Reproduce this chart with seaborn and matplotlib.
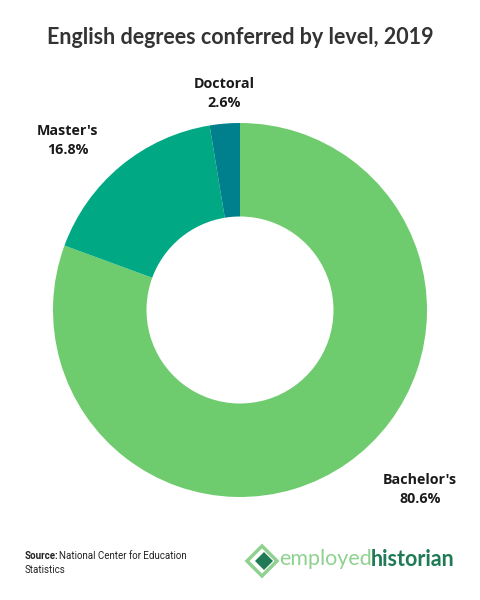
import matplotlib
matplotlib.use("Agg")
import matplotlib.pyplot as plt
import numpy as np
import seaborn as sns

levels = ["Bachelor's", "Master's", "Doctoral"]
shares = [80.6, 16.8, 2.6]
colors = ["#6fcc6e", "#00a984", "#00808d"]
# label placement (angle in degrees, distance in radii) for each wedge
label_pos = [(-45, 1.36), (135.5, 1.29), (94.2, 1.16)]

sns.set_theme(style="white")
plt.rcParams["font.family"] = ["Open Sans", "DejaVu Sans"]

W, H = 480, 600
fig = plt.figure(figsize=(4.8, 6), dpi=100)
fig.patch.set_facecolor("white")

# pie centred at (240, 310) px, radius 187 px
ax = fig.add_axes([53 / W, (H - 310 - 187) / H, 374 / W, 374 / H])
ax.pie(shares, colors=colors, startangle=90, counterclock=False,
       radius=1, wedgeprops=dict(width=0.5, linewidth=0))
ax.set_xlim(-1, 1)
ax.set_ylim(-1, 1)
ax.set_aspect("equal")
ax.axis("off")

for name, val, (ang, dist) in zip(levels, shares, label_pos):
    a = np.deg2rad(ang)
    ax.text(dist * np.cos(a), dist * np.sin(a), f"{name}\n{val}%",
            ha="center", va="center", fontsize=10.3, fontweight="bold",
            color="#1a1a1a", linespacing=1.45)

fig.text(0.5, (H - 38) / H, "English degrees conferred by level, 2019",
         ha="center", va="center", fontsize=15.5, fontweight="bold",
         color="#333333", family=["Lato", "DejaVu Sans"])

# source note
src_font = ["Roboto", "DejaVu Sans"]
fig.text(25 / W, (H - 556) / H, "Source:", fontsize=7, fontweight="bold",
         color="#222222", family=src_font, va="center")
fig.text(59 / W, (H - 556) / H, "National Center for Education",
         fontsize=7, color="#222222", family=src_font, va="center")
fig.text(25 / W, (H - 570) / H, "Statistics", fontsize=7,
         color="#222222", family=src_font, va="center")

# logo: diamond icon + wordmark
def px(pts):
    return [(x / 100, (H - y) / 100) for x, y in pts]

outer = plt.Polygon(px([(247, 561), (262, 546), (277, 561), (262, 576)]),
                    closed=True, facecolor="none", edgecolor="#8fd18f",
                    linewidth=2.5, transform=fig.dpi_scale_trans)
inner = plt.Polygon(px([(255, 561), (264, 552), (273, 561), (264, 570)]),
                    closed=True, facecolor="#1f7a55", edgecolor="none",
                    transform=fig.dpi_scale_trans)
fig.patches.extend([outer, inner])
fig.text(279 / W, (H - 559) / H, "employed", fontsize=15.5,
         color="#8fd18f", family=["Lato", "DejaVu Sans"], va="center")
fig.text(371 / W, (H - 559) / H, "historian", fontsize=15.5,
         fontweight="bold", color="#1f7a55", family=["Lato", "DejaVu Sans"],
         va="center")

fig.savefig("out.png", dpi=100, facecolor="white")
